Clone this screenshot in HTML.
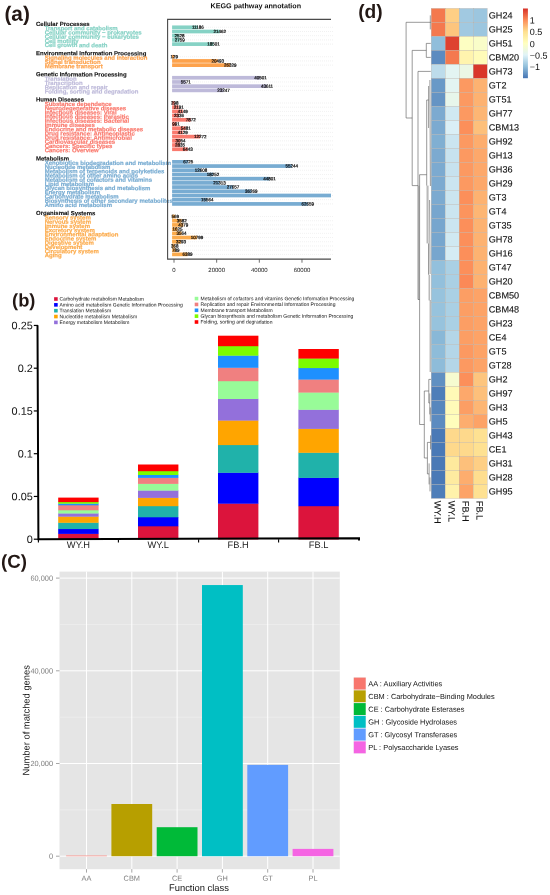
<!DOCTYPE html>
<html lang="en"><head><meta charset="utf-8"><title>Figure</title>
<style>html,body{margin:0;padding:0;background:#fff}body{width:550px;height:895px;overflow:hidden}svg{display:block}</style>
</head><body>
<svg width="550" height="895" viewBox="0 0 550 895" font-family='"Liberation Sans", Arial, Helvetica, sans-serif' text-rendering="geometricPrecision">
<rect width="550" height="895" fill="#fff"/>
<g id="panelA">
<g stroke="#dcdcdc" stroke-width="0.5" stroke-dasharray="0.8 1.2"><line x1="172.1" y1="27.30" x2="333" y2="27.30"/><line x1="172.1" y1="31.51" x2="333" y2="31.51"/><line x1="172.1" y1="35.71" x2="333" y2="35.71"/><line x1="172.1" y1="39.91" x2="333" y2="39.91"/><line x1="172.1" y1="44.12" x2="333" y2="44.12"/><line x1="172.1" y1="56.73" x2="333" y2="56.73"/><line x1="172.1" y1="60.94" x2="333" y2="60.94"/><line x1="172.1" y1="65.14" x2="333" y2="65.14"/><line x1="172.1" y1="77.76" x2="333" y2="77.76"/><line x1="172.1" y1="81.97" x2="333" y2="81.97"/><line x1="172.1" y1="86.17" x2="333" y2="86.17"/><line x1="172.1" y1="90.38" x2="333" y2="90.38"/><line x1="172.1" y1="102.99" x2="333" y2="102.99"/><line x1="172.1" y1="107.19" x2="333" y2="107.19"/><line x1="172.1" y1="111.40" x2="333" y2="111.40"/><line x1="172.1" y1="115.61" x2="333" y2="115.61"/><line x1="172.1" y1="119.81" x2="333" y2="119.81"/><line x1="172.1" y1="124.02" x2="333" y2="124.02"/><line x1="172.1" y1="128.22" x2="333" y2="128.22"/><line x1="172.1" y1="132.43" x2="333" y2="132.43"/><line x1="172.1" y1="136.63" x2="333" y2="136.63"/><line x1="172.1" y1="140.84" x2="333" y2="140.84"/><line x1="172.1" y1="145.04" x2="333" y2="145.04"/><line x1="172.1" y1="149.25" x2="333" y2="149.25"/><line x1="172.1" y1="161.86" x2="333" y2="161.86"/><line x1="172.1" y1="166.07" x2="333" y2="166.07"/><line x1="172.1" y1="170.27" x2="333" y2="170.27"/><line x1="172.1" y1="174.48" x2="333" y2="174.48"/><line x1="172.1" y1="178.68" x2="333" y2="178.68"/><line x1="172.1" y1="182.89" x2="333" y2="182.89"/><line x1="172.1" y1="187.09" x2="333" y2="187.09"/><line x1="172.1" y1="191.30" x2="333" y2="191.30"/><line x1="172.1" y1="195.50" x2="333" y2="195.50"/><line x1="172.1" y1="199.71" x2="333" y2="199.71"/><line x1="172.1" y1="203.91" x2="333" y2="203.91"/><line x1="172.1" y1="216.53" x2="333" y2="216.53"/><line x1="172.1" y1="220.73" x2="333" y2="220.73"/><line x1="172.1" y1="224.94" x2="333" y2="224.94"/><line x1="172.1" y1="229.14" x2="333" y2="229.14"/><line x1="172.1" y1="233.35" x2="333" y2="233.35"/><line x1="172.1" y1="237.55" x2="333" y2="237.55"/><line x1="172.1" y1="241.76" x2="333" y2="241.76"/><line x1="172.1" y1="245.96" x2="333" y2="245.96"/><line x1="172.1" y1="250.17" x2="333" y2="250.17"/><line x1="172.1" y1="254.37" x2="333" y2="254.37"/></g>
<rect x="172.1" y="25.45" width="25.76" height="3.7" fill="#86D2C5"/><rect x="172.1" y="29.66" width="47.68" height="3.7" fill="#86D2C5"/><rect x="172.1" y="33.86" width="7.29" height="3.7" fill="#86D2C5"/><rect x="172.1" y="38.06" width="7.78" height="3.7" fill="#86D2C5"/><rect x="172.1" y="42.27" width="41.36" height="3.7" fill="#86D2C5"/><rect x="172.1" y="54.88" width="2.18" height="3.7" fill="#FDA24C"/><rect x="172.1" y="59.09" width="45.61" height="3.7" fill="#FDA24C"/><rect x="172.1" y="63.29" width="58.06" height="3.7" fill="#FDA24C"/><rect x="172.1" y="75.91" width="88.29" height="3.7" fill="#BEBADA"/><rect x="172.1" y="80.12" width="13.78" height="3.7" fill="#BEBADA"/><rect x="172.1" y="84.32" width="94.92" height="3.7" fill="#BEBADA"/><rect x="172.1" y="88.53" width="51.49" height="3.7" fill="#BEBADA"/><rect x="172.1" y="101.14" width="2.54" height="3.7" fill="#FA7A6E"/><rect x="172.1" y="105.34" width="6.57" height="3.7" fill="#FA7A6E"/><rect x="172.1" y="109.55" width="10.75" height="3.7" fill="#FA7A6E"/><rect x="172.1" y="113.76" width="6.88" height="3.7" fill="#FA7A6E"/><rect x="172.1" y="117.96" width="18.69" height="3.7" fill="#FA7A6E"/><rect x="172.1" y="122.17" width="4.01" height="3.7" fill="#FA7A6E"/><rect x="172.1" y="126.37" width="13.59" height="3.7" fill="#FA7A6E"/><rect x="172.1" y="130.58" width="10.71" height="3.7" fill="#FA7A6E"/><rect x="172.1" y="134.78" width="28.08" height="3.7" fill="#FA7A6E"/><rect x="172.1" y="138.99" width="8.41" height="3.7" fill="#FA7A6E"/><rect x="172.1" y="143.19" width="7.95" height="3.7" fill="#FA7A6E"/><rect x="172.1" y="147.40" width="15.64" height="3.7" fill="#FA7A6E"/><rect x="172.1" y="160.01" width="16.24" height="3.7" fill="#78ACD2"/><rect x="172.1" y="164.22" width="119.74" height="3.7" fill="#78ACD2"/><rect x="172.1" y="168.42" width="28.79" height="3.7" fill="#78ACD2"/><rect x="172.1" y="172.63" width="40.83" height="3.7" fill="#78ACD2"/><rect x="172.1" y="176.83" width="97.46" height="3.7" fill="#78ACD2"/><rect x="172.1" y="181.04" width="47.36" height="3.7" fill="#78ACD2"/><rect x="172.1" y="185.24" width="60.89" height="3.7" fill="#78ACD2"/><rect x="172.1" y="189.45" width="79.26" height="3.7" fill="#78ACD2"/><rect x="172.1" y="193.65" width="158.90" height="3.7" fill="#78ACD2"/><rect x="172.1" y="197.86" width="35.10" height="3.7" fill="#78ACD2"/><rect x="172.1" y="202.06" width="135.55" height="3.7" fill="#78ACD2"/><rect x="172.1" y="214.68" width="3.11" height="3.7" fill="#FCAB4C"/><rect x="172.1" y="218.88" width="9.54" height="3.7" fill="#FCAB4C"/><rect x="172.1" y="223.09" width="11.24" height="3.7" fill="#FCAB4C"/><rect x="172.1" y="227.29" width="5.37" height="3.7" fill="#FCAB4C"/><rect x="172.1" y="231.50" width="9.50" height="3.7" fill="#FCAB4C"/><rect x="172.1" y="235.70" width="24.93" height="3.7" fill="#FCAB4C"/><rect x="172.1" y="239.91" width="8.92" height="3.7" fill="#FCAB4C"/><rect x="172.1" y="244.11" width="2.68" height="3.7" fill="#FCAB4C"/><rect x="172.1" y="248.32" width="3.58" height="3.7" fill="#FCAB4C"/><rect x="172.1" y="252.52" width="15.53" height="3.7" fill="#FCAB4C"/>
<text transform="rotate(0.03 36 25.89)" x="36" y="25.89" font-size="6" font-weight="700" fill="#111" stroke="#111" stroke-width="0.1">Cellular Processes</text><text transform="rotate(0.03 44.7 30.30)" x="44.7" y="30.30" font-size="6" font-weight="700" fill="#86D2C5" stroke="#86D2C5" stroke-width="0.18">Transport and catabolism</text><text transform="rotate(0.03 44.7 34.51)" x="44.7" y="34.51" font-size="6" font-weight="700" fill="#86D2C5" stroke="#86D2C5" stroke-width="0.18">Cellular community − prokaryotes</text><text transform="rotate(0.03 44.7 38.71)" x="44.7" y="38.71" font-size="6" font-weight="700" fill="#86D2C5" stroke="#86D2C5" stroke-width="0.18">Cellular community − eukaryotes</text><text transform="rotate(0.03 44.7 42.91)" x="44.7" y="42.91" font-size="6" font-weight="700" fill="#86D2C5" stroke="#86D2C5" stroke-width="0.18">Cell motility</text><text transform="rotate(0.03 44.7 47.12)" x="44.7" y="47.12" font-size="6" font-weight="700" fill="#86D2C5" stroke="#86D2C5" stroke-width="0.18">Cell growth and death</text><text transform="rotate(0.03 36 55.33)" x="36" y="55.33" font-size="6" font-weight="700" fill="#111" stroke="#111" stroke-width="0.1">Environmental Information Processing</text><text transform="rotate(0.03 44.7 59.73)" x="44.7" y="59.73" font-size="6" font-weight="700" fill="#FDA24C" stroke="#FDA24C" stroke-width="0.18">Signaling molecules and interaction</text><text transform="rotate(0.03 44.7 63.94)" x="44.7" y="63.94" font-size="6" font-weight="700" fill="#FDA24C" stroke="#FDA24C" stroke-width="0.18">Signal transduction</text><text transform="rotate(0.03 44.7 68.14)" x="44.7" y="68.14" font-size="6" font-weight="700" fill="#FDA24C" stroke="#FDA24C" stroke-width="0.18">Membrane transport</text><text transform="rotate(0.03 36 76.36)" x="36" y="76.36" font-size="6" font-weight="700" fill="#111" stroke="#111" stroke-width="0.1">Genetic Information Processing</text><text transform="rotate(0.03 44.7 80.76)" x="44.7" y="80.76" font-size="6" font-weight="700" fill="#BEBADA" stroke="#BEBADA" stroke-width="0.18">Translation</text><text transform="rotate(0.03 44.7 84.97)" x="44.7" y="84.97" font-size="6" font-weight="700" fill="#BEBADA" stroke="#BEBADA" stroke-width="0.18">Transcription</text><text transform="rotate(0.03 44.7 89.17)" x="44.7" y="89.17" font-size="6" font-weight="700" fill="#BEBADA" stroke="#BEBADA" stroke-width="0.18">Replication and repair</text><text transform="rotate(0.03 44.7 93.38)" x="44.7" y="93.38" font-size="6" font-weight="700" fill="#BEBADA" stroke="#BEBADA" stroke-width="0.18">Folding, sorting and degradation</text><text transform="rotate(0.03 36 101.58)" x="36" y="101.58" font-size="6" font-weight="700" fill="#111" stroke="#111" stroke-width="0.1">Human Diseases</text><text transform="rotate(0.03 44.7 105.99)" x="44.7" y="105.99" font-size="6" font-weight="700" fill="#FA7A6E" stroke="#FA7A6E" stroke-width="0.18">Substance dependence</text><text transform="rotate(0.03 44.7 110.19)" x="44.7" y="110.19" font-size="6" font-weight="700" fill="#FA7A6E" stroke="#FA7A6E" stroke-width="0.18">Neurodegenerative diseases</text><text transform="rotate(0.03 44.7 114.40)" x="44.7" y="114.40" font-size="6" font-weight="700" fill="#FA7A6E" stroke="#FA7A6E" stroke-width="0.18">Infectious diseases: Viral</text><text transform="rotate(0.03 44.7 118.61)" x="44.7" y="118.61" font-size="6" font-weight="700" fill="#FA7A6E" stroke="#FA7A6E" stroke-width="0.18">Infectious diseases: Parasitic</text><text transform="rotate(0.03 44.7 122.81)" x="44.7" y="122.81" font-size="6" font-weight="700" fill="#FA7A6E" stroke="#FA7A6E" stroke-width="0.18">Infectious diseases: Bacterial</text><text transform="rotate(0.03 44.7 127.02)" x="44.7" y="127.02" font-size="6" font-weight="700" fill="#FA7A6E" stroke="#FA7A6E" stroke-width="0.18">Immune diseases</text><text transform="rotate(0.03 44.7 131.22)" x="44.7" y="131.22" font-size="6" font-weight="700" fill="#FA7A6E" stroke="#FA7A6E" stroke-width="0.18">Endocrine and metabolic diseases</text><text transform="rotate(0.03 44.7 135.43)" x="44.7" y="135.43" font-size="6" font-weight="700" fill="#FA7A6E" stroke="#FA7A6E" stroke-width="0.18">Drug resistance: Antineoplastic</text><text transform="rotate(0.03 44.7 139.63)" x="44.7" y="139.63" font-size="6" font-weight="700" fill="#FA7A6E" stroke="#FA7A6E" stroke-width="0.18">Drug resistance: Antimicrobial</text><text transform="rotate(0.03 44.7 143.84)" x="44.7" y="143.84" font-size="6" font-weight="700" fill="#FA7A6E" stroke="#FA7A6E" stroke-width="0.18">Cardiovascular diseases</text><text transform="rotate(0.03 44.7 148.04)" x="44.7" y="148.04" font-size="6" font-weight="700" fill="#FA7A6E" stroke="#FA7A6E" stroke-width="0.18">Cancers: Specific types</text><text transform="rotate(0.03 44.7 152.25)" x="44.7" y="152.25" font-size="6" font-weight="700" fill="#FA7A6E" stroke="#FA7A6E" stroke-width="0.18">Cancers: Overview</text><text transform="rotate(0.03 36 160.46)" x="36" y="160.46" font-size="6" font-weight="700" fill="#111" stroke="#111" stroke-width="0.1">Metabolism</text><text transform="rotate(0.03 44.7 164.86)" x="44.7" y="164.86" font-size="6" font-weight="700" fill="#78ACD2" stroke="#78ACD2" stroke-width="0.18">Xenobiotics biodegradation and metabolism</text><text transform="rotate(0.03 44.7 169.07)" x="44.7" y="169.07" font-size="6" font-weight="700" fill="#78ACD2" stroke="#78ACD2" stroke-width="0.18">Nucleotide metabolism</text><text transform="rotate(0.03 44.7 173.27)" x="44.7" y="173.27" font-size="6" font-weight="700" fill="#78ACD2" stroke="#78ACD2" stroke-width="0.18">Metabolism of terpenoids and polyketides</text><text transform="rotate(0.03 44.7 177.48)" x="44.7" y="177.48" font-size="6" font-weight="700" fill="#78ACD2" stroke="#78ACD2" stroke-width="0.18">Metabolism of other amino acids</text><text transform="rotate(0.03 44.7 181.68)" x="44.7" y="181.68" font-size="6" font-weight="700" fill="#78ACD2" stroke="#78ACD2" stroke-width="0.18">Metabolism of cofactors and vitamins</text><text transform="rotate(0.03 44.7 185.89)" x="44.7" y="185.89" font-size="6" font-weight="700" fill="#78ACD2" stroke="#78ACD2" stroke-width="0.18">Lipid metabolism</text><text transform="rotate(0.03 44.7 190.09)" x="44.7" y="190.09" font-size="6" font-weight="700" fill="#78ACD2" stroke="#78ACD2" stroke-width="0.18">Glycan biosynthesis and metabolism</text><text transform="rotate(0.03 44.7 194.30)" x="44.7" y="194.30" font-size="6" font-weight="700" fill="#78ACD2" stroke="#78ACD2" stroke-width="0.18">Energy metabolism</text><text transform="rotate(0.03 44.7 198.50)" x="44.7" y="198.50" font-size="6" font-weight="700" fill="#78ACD2" stroke="#78ACD2" stroke-width="0.18">Carbohydrate metabolism</text><text transform="rotate(0.03 44.7 202.71)" x="44.7" y="202.71" font-size="6" font-weight="700" fill="#78ACD2" stroke="#78ACD2" stroke-width="0.18">Biosynthesis of other secondary metabolites</text><text transform="rotate(0.03 44.7 206.91)" x="44.7" y="206.91" font-size="6" font-weight="700" fill="#78ACD2" stroke="#78ACD2" stroke-width="0.18">Amino acid metabolism</text><text transform="rotate(0.03 36 215.12)" x="36" y="215.12" font-size="6" font-weight="700" fill="#111" stroke="#111" stroke-width="0.1">Organismal Systems</text><text transform="rotate(0.03 44.7 219.53)" x="44.7" y="219.53" font-size="6" font-weight="700" fill="#FCAB4C" stroke="#FCAB4C" stroke-width="0.18">Sensory system</text><text transform="rotate(0.03 44.7 223.73)" x="44.7" y="223.73" font-size="6" font-weight="700" fill="#FCAB4C" stroke="#FCAB4C" stroke-width="0.18">Nervous system</text><text transform="rotate(0.03 44.7 227.94)" x="44.7" y="227.94" font-size="6" font-weight="700" fill="#FCAB4C" stroke="#FCAB4C" stroke-width="0.18">Immune system</text><text transform="rotate(0.03 44.7 232.14)" x="44.7" y="232.14" font-size="6" font-weight="700" fill="#FCAB4C" stroke="#FCAB4C" stroke-width="0.18">Excretory system</text><text transform="rotate(0.03 44.7 236.35)" x="44.7" y="236.35" font-size="6" font-weight="700" fill="#FCAB4C" stroke="#FCAB4C" stroke-width="0.18">Environmental adaptation</text><text transform="rotate(0.03 44.7 240.55)" x="44.7" y="240.55" font-size="6" font-weight="700" fill="#FCAB4C" stroke="#FCAB4C" stroke-width="0.18">Endocrine system</text><text transform="rotate(0.03 44.7 244.76)" x="44.7" y="244.76" font-size="6" font-weight="700" fill="#FCAB4C" stroke="#FCAB4C" stroke-width="0.18">Digestive system</text><text transform="rotate(0.03 44.7 248.96)" x="44.7" y="248.96" font-size="6" font-weight="700" fill="#FCAB4C" stroke="#FCAB4C" stroke-width="0.18">Development</text><text transform="rotate(0.03 44.7 253.17)" x="44.7" y="253.17" font-size="6" font-weight="700" fill="#FCAB4C" stroke="#FCAB4C" stroke-width="0.18">Circulatory system</text><text transform="rotate(0.03 44.7 257.37)" x="44.7" y="257.37" font-size="6" font-weight="700" fill="#FCAB4C" stroke="#FCAB4C" stroke-width="0.18">Aging</text>
<g font-size="4.5" fill="#111" stroke="#111" stroke-width="0.22"><text transform="rotate(0.03 197.86 28.80)" x="197.86" y="28.80" text-anchor="middle">11186</text><text transform="rotate(0.03 219.78 33.01)" x="219.78" y="33.01" text-anchor="middle">21462</text><text transform="rotate(0.03 179.39 37.21)" x="179.39" y="37.21" text-anchor="middle">2528</text><text transform="rotate(0.03 179.88 41.41)" x="179.88" y="41.41" text-anchor="middle">2759</text><text transform="rotate(0.03 213.46 45.62)" x="213.46" y="45.62" text-anchor="middle">18501</text><text transform="rotate(0.03 174.28 58.23)" x="174.28" y="58.23" text-anchor="middle">129</text><text transform="rotate(0.03 217.71 62.44)" x="217.71" y="62.44" text-anchor="middle">20493</text><text transform="rotate(0.03 230.16 66.64)" x="230.16" y="66.64" text-anchor="middle">26329</text><text transform="rotate(0.03 260.39 79.26)" x="260.39" y="79.26" text-anchor="middle">40501</text><text transform="rotate(0.03 185.88 83.47)" x="185.88" y="83.47" text-anchor="middle">5571</text><text transform="rotate(0.03 267.02 87.67)" x="267.02" y="87.67" text-anchor="middle">43611</text><text transform="rotate(0.03 223.59 91.88)" x="223.59" y="91.88" text-anchor="middle">23247</text><text transform="rotate(0.03 174.64 104.49)" x="174.64" y="104.49" text-anchor="middle">298</text><text transform="rotate(0.03 178.67 108.69)" x="178.67" y="108.69" text-anchor="middle">2191</text><text transform="rotate(0.03 182.85 112.90)" x="182.85" y="112.90" text-anchor="middle">4149</text><text transform="rotate(0.03 178.98 117.11)" x="178.98" y="117.11" text-anchor="middle">2336</text><text transform="rotate(0.03 190.79 121.31)" x="190.79" y="121.31" text-anchor="middle">7872</text><text transform="rotate(0.03 176.11 125.52)" x="176.11" y="125.52" text-anchor="middle">991</text><text transform="rotate(0.03 185.69 129.72)" x="185.69" y="129.72" text-anchor="middle">5481</text><text transform="rotate(0.03 182.81 133.93)" x="182.81" y="133.93" text-anchor="middle">4129</text><text transform="rotate(0.03 200.18 138.13)" x="200.18" y="138.13" text-anchor="middle">12272</text><text transform="rotate(0.03 180.51 142.34)" x="180.51" y="142.34" text-anchor="middle">3054</text><text transform="rotate(0.03 180.05 146.54)" x="180.05" y="146.54" text-anchor="middle">2835</text><text transform="rotate(0.03 187.74 150.75)" x="187.74" y="150.75" text-anchor="middle">6443</text><text transform="rotate(0.03 188.34 163.36)" x="188.34" y="163.36" text-anchor="middle">6725</text><text transform="rotate(0.03 291.84 167.57)" x="291.84" y="167.57" text-anchor="middle">55244</text><text transform="rotate(0.03 200.89 171.77)" x="200.89" y="171.77" text-anchor="middle">12608</text><text transform="rotate(0.03 212.93 175.98)" x="212.93" y="175.98" text-anchor="middle">18252</text><text transform="rotate(0.03 269.56 180.18)" x="269.56" y="180.18" text-anchor="middle">44801</text><text transform="rotate(0.03 219.46 184.39)" x="219.46" y="184.39" text-anchor="middle">21313</text><text transform="rotate(0.03 232.99 188.59)" x="232.99" y="188.59" text-anchor="middle">27657</text><text transform="rotate(0.03 251.36 192.80)" x="251.36" y="192.80" text-anchor="middle">36269</text><text transform="rotate(0.03 207.20 201.21)" x="207.20" y="201.21" text-anchor="middle">15564</text><text transform="rotate(0.03 307.65 205.41)" x="307.65" y="205.41" text-anchor="middle">62659</text><text transform="rotate(0.03 175.21 218.03)" x="175.21" y="218.03" text-anchor="middle">569</text><text transform="rotate(0.03 181.64 222.23)" x="181.64" y="222.23" text-anchor="middle">3582</text><text transform="rotate(0.03 183.34 226.44)" x="183.34" y="226.44" text-anchor="middle">4379</text><text transform="rotate(0.03 177.47 230.64)" x="177.47" y="230.64" text-anchor="middle">1625</text><text transform="rotate(0.03 181.60 234.85)" x="181.60" y="234.85" text-anchor="middle">3564</text><text transform="rotate(0.03 197.03 239.05)" x="197.03" y="239.05" text-anchor="middle">10799</text><text transform="rotate(0.03 181.02 243.26)" x="181.02" y="243.26" text-anchor="middle">3293</text><text transform="rotate(0.03 174.78 247.46)" x="174.78" y="247.46" text-anchor="middle">368</text><text transform="rotate(0.03 175.68 251.67)" x="175.68" y="251.67" text-anchor="middle">789</text><text transform="rotate(0.03 187.63 255.87)" x="187.63" y="255.87" text-anchor="middle">6389</text></g>
<path d="M331.0 19.4H167.6V259.1H331.0" fill="none" stroke="#4a4a4a" stroke-width="1.1"/>
<line x1="174.00" y1="259.1" x2="174.00" y2="262.7" stroke="#4a4a4a" stroke-width="0.8"/>
<text transform="rotate(0.03 174.00 272.1)" x="174.00" y="272.1" font-size="6" text-anchor="middle" fill="#222">0</text>
<line x1="216.66" y1="259.1" x2="216.66" y2="262.7" stroke="#4a4a4a" stroke-width="0.8"/>
<text transform="rotate(0.03 216.66 272.1)" x="216.66" y="272.1" font-size="6" text-anchor="middle" fill="#222">20000</text>
<line x1="259.32" y1="259.1" x2="259.32" y2="262.7" stroke="#4a4a4a" stroke-width="0.8"/>
<text transform="rotate(0.03 259.32 272.1)" x="259.32" y="272.1" font-size="6" text-anchor="middle" fill="#222">40000</text>
<line x1="301.98" y1="259.1" x2="301.98" y2="262.7" stroke="#4a4a4a" stroke-width="0.8"/>
<text transform="rotate(0.03 301.98 272.1)" x="301.98" y="272.1" font-size="6" text-anchor="middle" fill="#222">60000</text>
<text transform="rotate(0.03 255.8 8.2)" x="255.8" y="8.2" font-size="7.2" font-weight="700" text-anchor="middle" fill="#111">KEGG pathway annotation</text>
</g>
<text transform="rotate(0.03 4.4 20.7)" x="4.4" y="20.7" font-size="20.8" font-weight="700" fill="#231815">(a)</text>
<g id="panelB">
<rect x="58.2" y="533.60" width="40.4" height="5.90" fill="#DC143C"/>
<rect x="58.2" y="528.80" width="40.4" height="5.10" fill="#0000FF"/>
<rect x="58.2" y="522.50" width="40.4" height="6.60" fill="#20B2AA"/>
<rect x="58.2" y="516.40" width="40.4" height="6.40" fill="#FFA500"/>
<rect x="58.2" y="513.20" width="40.4" height="3.50" fill="#9370DB"/>
<rect x="58.2" y="510.00" width="40.4" height="3.50" fill="#98FB98"/>
<rect x="58.2" y="505.00" width="40.4" height="5.30" fill="#F08080"/>
<rect x="58.2" y="503.40" width="40.4" height="1.90" fill="#1E90FF"/>
<rect x="58.2" y="501.80" width="40.4" height="1.90" fill="#7CFC00"/>
<rect x="58.2" y="497.60" width="40.4" height="4.50" fill="#FF0000"/>
<text transform="rotate(0.03 78.4 548.1)" x="78.4" y="548.1" font-size="9.3" text-anchor="middle" fill="#222">WY.H</text>
<rect x="138.0" y="526.00" width="40.4" height="13.50" fill="#DC143C"/>
<rect x="138.0" y="517.00" width="40.4" height="9.30" fill="#0000FF"/>
<rect x="138.0" y="505.90" width="40.4" height="11.40" fill="#20B2AA"/>
<rect x="138.0" y="497.60" width="40.4" height="8.60" fill="#FFA500"/>
<rect x="138.0" y="490.30" width="40.4" height="7.60" fill="#9370DB"/>
<rect x="138.0" y="483.60" width="40.4" height="7.00" fill="#98FB98"/>
<rect x="138.0" y="477.60" width="40.4" height="6.30" fill="#F08080"/>
<rect x="138.0" y="474.70" width="40.4" height="3.20" fill="#1E90FF"/>
<rect x="138.0" y="470.90" width="40.4" height="4.10" fill="#7CFC00"/>
<rect x="138.0" y="464.50" width="40.4" height="6.70" fill="#FF0000"/>
<text transform="rotate(0.03 158.2 548.1)" x="158.2" y="548.1" font-size="9.3" text-anchor="middle" fill="#222">WY.L</text>
<rect x="218.0" y="503.40" width="40.4" height="36.10" fill="#DC143C"/>
<rect x="218.0" y="472.50" width="40.4" height="31.20" fill="#0000FF"/>
<rect x="218.0" y="444.80" width="40.4" height="28.00" fill="#20B2AA"/>
<rect x="218.0" y="420.30" width="40.4" height="24.80" fill="#FFA500"/>
<rect x="218.0" y="398.70" width="40.4" height="21.90" fill="#9370DB"/>
<rect x="218.0" y="380.90" width="40.4" height="18.10" fill="#98FB98"/>
<rect x="218.0" y="367.50" width="40.4" height="13.70" fill="#F08080"/>
<rect x="218.0" y="355.40" width="40.4" height="12.40" fill="#1E90FF"/>
<rect x="218.0" y="345.90" width="40.4" height="9.80" fill="#7CFC00"/>
<rect x="218.0" y="335.70" width="40.4" height="10.50" fill="#FF0000"/>
<text transform="rotate(0.03 238.2 548.1)" x="238.2" y="548.1" font-size="9.3" text-anchor="middle" fill="#222">FB.H</text>
<rect x="298.4" y="505.90" width="40.4" height="33.60" fill="#DC143C"/>
<rect x="298.4" y="477.60" width="40.4" height="28.60" fill="#0000FF"/>
<rect x="298.4" y="452.50" width="40.4" height="25.40" fill="#20B2AA"/>
<rect x="298.4" y="428.60" width="40.4" height="24.20" fill="#FFA500"/>
<rect x="298.4" y="409.50" width="40.4" height="19.40" fill="#9370DB"/>
<rect x="298.4" y="392.30" width="40.4" height="17.50" fill="#98FB98"/>
<rect x="298.4" y="379.30" width="40.4" height="13.30" fill="#F08080"/>
<rect x="298.4" y="367.80" width="40.4" height="11.80" fill="#1E90FF"/>
<rect x="298.4" y="358.30" width="40.4" height="9.80" fill="#7CFC00"/>
<rect x="298.4" y="349.00" width="40.4" height="9.60" fill="#FF0000"/>
<text transform="rotate(0.03 318.6 548.1)" x="318.6" y="548.1" font-size="9.3" text-anchor="middle" fill="#222">FB.L</text>
<path d="M37.5 325.3L38.4 539.2L359.0 538.2V540.4" fill="none" stroke="#000" stroke-width="2.0" stroke-linejoin="miter"/>
<line x1="33.8" y1="539.20" x2="38" y2="539.20" stroke="#000" stroke-width="1.2"/>
<text transform="rotate(0.03 32.8 543.10)" x="32.8" y="543.10" font-size="10.9" text-anchor="end" fill="#111">0</text>
<line x1="33.8" y1="496.45" x2="38" y2="496.45" stroke="#000" stroke-width="1.2"/>
<text transform="rotate(0.03 32.8 500.35)" x="32.8" y="500.35" font-size="10.9" text-anchor="end" fill="#111">0.05</text>
<line x1="33.8" y1="453.70" x2="38" y2="453.70" stroke="#000" stroke-width="1.2"/>
<text transform="rotate(0.03 32.8 457.60)" x="32.8" y="457.60" font-size="10.9" text-anchor="end" fill="#111">0.1</text>
<line x1="33.8" y1="410.95" x2="38" y2="410.95" stroke="#000" stroke-width="1.2"/>
<text transform="rotate(0.03 32.8 414.85)" x="32.8" y="414.85" font-size="10.9" text-anchor="end" fill="#111">0.15</text>
<line x1="33.8" y1="368.20" x2="38" y2="368.20" stroke="#000" stroke-width="1.2"/>
<text transform="rotate(0.03 32.8 372.10)" x="32.8" y="372.10" font-size="10.9" text-anchor="end" fill="#111">0.2</text>
<line x1="33.8" y1="325.45" x2="38" y2="325.45" stroke="#000" stroke-width="1.2"/>
<text transform="rotate(0.03 32.8 329.35)" x="32.8" y="329.35" font-size="10.9" text-anchor="end" fill="#111">0.25</text>
<line x1="38.4" y1="539.2" x2="38.4" y2="542.4000000000001" stroke="#000" stroke-width="1.1"/>
<line x1="118.4" y1="539.2" x2="118.4" y2="542.4000000000001" stroke="#000" stroke-width="1.1"/>
<line x1="198.6" y1="539.2" x2="198.6" y2="542.4000000000001" stroke="#000" stroke-width="1.1"/>
<line x1="278.6" y1="539.2" x2="278.6" y2="542.4000000000001" stroke="#000" stroke-width="1.1"/>
<rect x="54.1" y="297.20" width="3.6" height="3.6" fill="#DC143C"/>
<text transform="rotate(0.03 59.5 300.60)" x="59.5" y="300.60" font-size="5.02" fill="#111">Carbohydrate metabolism Metabolism</text>
<rect x="54.1" y="303.05" width="3.6" height="3.6" fill="#0000FF"/>
<text transform="rotate(0.03 59.5 306.45)" x="59.5" y="306.45" font-size="5.02" fill="#111">Amino acid metabolism Genetic Information Processing</text>
<rect x="54.1" y="308.90" width="3.6" height="3.6" fill="#20B2AA"/>
<text transform="rotate(0.03 59.5 312.30)" x="59.5" y="312.30" font-size="5.02" fill="#111">Translation Metabolism</text>
<rect x="54.1" y="314.75" width="3.6" height="3.6" fill="#FFA500"/>
<text transform="rotate(0.03 59.5 318.15)" x="59.5" y="318.15" font-size="5.02" fill="#111">Nucleotide metabolism Metabolism</text>
<rect x="54.1" y="320.60" width="3.6" height="3.6" fill="#9370DB"/>
<text transform="rotate(0.03 59.5 324.00)" x="59.5" y="324.00" font-size="5.02" fill="#111">Energy metabolism Metabolism</text>
<rect x="194.7" y="296.80" width="3.6" height="3.6" fill="#98FB98"/>
<text transform="rotate(0.03 200.5 300.20)" x="200.5" y="300.20" font-size="5.02" fill="#111">Metabolism of cofactors and vitamins Genetic Information Processing</text>
<rect x="194.7" y="302.65" width="3.6" height="3.6" fill="#F08080"/>
<text transform="rotate(0.03 200.5 306.05)" x="200.5" y="306.05" font-size="5.02" fill="#111">Replication and repair Environmental Information Processing</text>
<rect x="194.7" y="308.50" width="3.6" height="3.6" fill="#1E90FF"/>
<text transform="rotate(0.03 200.5 311.90)" x="200.5" y="311.90" font-size="5.02" fill="#111">Membrane transport Metabolism</text>
<rect x="194.7" y="314.35" width="3.6" height="3.6" fill="#7CFC00"/>
<text transform="rotate(0.03 200.5 317.75)" x="200.5" y="317.75" font-size="5.02" fill="#111">Glycan biosynthesis and metabolism Genetic Information Processing</text>
<rect x="194.7" y="320.20" width="3.6" height="3.6" fill="#FF0000"/>
<text transform="rotate(0.03 200.5 323.60)" x="200.5" y="323.60" font-size="5.02" fill="#111">Folding, sorting and degradation</text>
</g>
<text transform="rotate(0.03 12.1 306.6)" x="12.1" y="306.6" font-size="18.3" font-weight="700" fill="#231815">(b)</text>
<g id="panelC">
<rect x="59.5" y="571.6" width="280.3" height="297.6" fill="#E5E5E5"/>
<line x1="59.5" y1="809.85" x2="339.8" y2="809.85" stroke="#F2F2F2" stroke-width="0.6"/>
<line x1="59.5" y1="717.15" x2="339.8" y2="717.15" stroke="#F2F2F2" stroke-width="0.6"/>
<line x1="59.5" y1="624.45" x2="339.8" y2="624.45" stroke="#F2F2F2" stroke-width="0.6"/>
<line x1="59.5" y1="856.20" x2="339.8" y2="856.20" stroke="#fff" stroke-width="1"/>
<line x1="56" y1="856.20" x2="59.5" y2="856.20" stroke="#7f7f7f" stroke-width="0.7"/>
<text transform="rotate(0.03 53 858.80)" x="53" y="858.80" font-size="7.4" text-anchor="end" fill="#7f7f7f">0</text>
<line x1="59.5" y1="763.50" x2="339.8" y2="763.50" stroke="#fff" stroke-width="1"/>
<line x1="56" y1="763.50" x2="59.5" y2="763.50" stroke="#7f7f7f" stroke-width="0.7"/>
<text transform="rotate(0.03 53 766.10)" x="53" y="766.10" font-size="7.4" text-anchor="end" fill="#7f7f7f">20,000</text>
<line x1="59.5" y1="670.80" x2="339.8" y2="670.80" stroke="#fff" stroke-width="1"/>
<line x1="56" y1="670.80" x2="59.5" y2="670.80" stroke="#7f7f7f" stroke-width="0.7"/>
<text transform="rotate(0.03 53 673.40)" x="53" y="673.40" font-size="7.4" text-anchor="end" fill="#7f7f7f">40,000</text>
<line x1="59.5" y1="578.10" x2="339.8" y2="578.10" stroke="#fff" stroke-width="1"/>
<line x1="56" y1="578.10" x2="59.5" y2="578.10" stroke="#7f7f7f" stroke-width="0.7"/>
<text transform="rotate(0.03 53 580.70)" x="53" y="580.70" font-size="7.4" text-anchor="end" fill="#7f7f7f">60,000</text>
<line x1="86.50" y1="571.6" x2="86.50" y2="869.2" stroke="#fff" stroke-width="1"/>
<line x1="86.50" y1="869.2" x2="86.50" y2="872.6" stroke="#7f7f7f" stroke-width="0.7"/>
<text transform="rotate(0.03 86.50 880.7)" x="86.50" y="880.7" font-size="7.4" text-anchor="middle" fill="#7f7f7f">AA</text>
<line x1="131.80" y1="571.6" x2="131.80" y2="869.2" stroke="#fff" stroke-width="1"/>
<line x1="131.80" y1="869.2" x2="131.80" y2="872.6" stroke="#7f7f7f" stroke-width="0.7"/>
<text transform="rotate(0.03 131.80 880.7)" x="131.80" y="880.7" font-size="7.4" text-anchor="middle" fill="#7f7f7f">CBM</text>
<line x1="177.10" y1="571.6" x2="177.10" y2="869.2" stroke="#fff" stroke-width="1"/>
<line x1="177.10" y1="869.2" x2="177.10" y2="872.6" stroke="#7f7f7f" stroke-width="0.7"/>
<text transform="rotate(0.03 177.10 880.7)" x="177.10" y="880.7" font-size="7.4" text-anchor="middle" fill="#7f7f7f">CE</text>
<line x1="222.40" y1="571.6" x2="222.40" y2="869.2" stroke="#fff" stroke-width="1"/>
<line x1="222.40" y1="869.2" x2="222.40" y2="872.6" stroke="#7f7f7f" stroke-width="0.7"/>
<text transform="rotate(0.03 222.40 880.7)" x="222.40" y="880.7" font-size="7.4" text-anchor="middle" fill="#7f7f7f">GH</text>
<line x1="267.70" y1="571.6" x2="267.70" y2="869.2" stroke="#fff" stroke-width="1"/>
<line x1="267.70" y1="869.2" x2="267.70" y2="872.6" stroke="#7f7f7f" stroke-width="0.7"/>
<text transform="rotate(0.03 267.70 880.7)" x="267.70" y="880.7" font-size="7.4" text-anchor="middle" fill="#7f7f7f">GT</text>
<line x1="313.00" y1="571.6" x2="313.00" y2="869.2" stroke="#fff" stroke-width="1"/>
<line x1="313.00" y1="869.2" x2="313.00" y2="872.6" stroke="#7f7f7f" stroke-width="0.7"/>
<text transform="rotate(0.03 313.00 880.7)" x="313.00" y="880.7" font-size="7.4" text-anchor="middle" fill="#7f7f7f">PL</text>
<rect x="66.10" y="855.60" width="40.8" height="0.60" fill="#F8766D"/>
<rect x="111.40" y="804.00" width="40.8" height="52.20" fill="#B79F00"/>
<rect x="156.70" y="827.20" width="40.8" height="29.00" fill="#00BA38"/>
<rect x="202.00" y="585.05" width="40.8" height="271.15" fill="#00BFC4"/>
<rect x="247.30" y="764.89" width="40.8" height="91.31" fill="#619CFF"/>
<rect x="292.60" y="848.90" width="40.8" height="7.30" fill="#F564E3"/>
<text transform="rotate(0.03 199 890.9)" x="199" y="890.9" font-size="9.4" text-anchor="middle" fill="#111">Function class</text>
<text transform="translate(29.4 720.3) rotate(-89.97)" font-size="9.4" text-anchor="middle" fill="#111">Number of matched genes</text>
<rect x="353.4" y="677.20" width="12.7" height="12.73" fill="#F2F2F2"/>
<rect x="353.8" y="677.60" width="11.9" height="11.95" fill="#F8766D"/>
<text transform="rotate(0.03 368.3 686.30)" x="368.3" y="686.30" font-size="7.4" fill="#111">AA : Auxiliary Activities</text>
<rect x="353.4" y="689.95" width="12.7" height="12.73" fill="#F2F2F2"/>
<rect x="353.8" y="690.35" width="11.9" height="11.95" fill="#B79F00"/>
<text transform="rotate(0.03 368.3 699.05)" x="368.3" y="699.05" font-size="7.4" fill="#111">CBM : Carbohydrate−Binding Modules</text>
<rect x="353.4" y="702.70" width="12.7" height="12.73" fill="#F2F2F2"/>
<rect x="353.8" y="703.10" width="11.9" height="11.95" fill="#00BA38"/>
<text transform="rotate(0.03 368.3 711.80)" x="368.3" y="711.80" font-size="7.4" fill="#111">CE : Carbohydrate Esterases</text>
<rect x="353.4" y="715.45" width="12.7" height="12.73" fill="#F2F2F2"/>
<rect x="353.8" y="715.85" width="11.9" height="11.95" fill="#00BFC4"/>
<text transform="rotate(0.03 368.3 724.55)" x="368.3" y="724.55" font-size="7.4" fill="#111">GH : Glycoside Hydrolases</text>
<rect x="353.4" y="728.20" width="12.7" height="12.73" fill="#F2F2F2"/>
<rect x="353.8" y="728.60" width="11.9" height="11.95" fill="#619CFF"/>
<text transform="rotate(0.03 368.3 737.30)" x="368.3" y="737.30" font-size="7.4" fill="#111">GT : Glycosyl Transferases</text>
<rect x="353.4" y="740.95" width="12.7" height="12.73" fill="#F2F2F2"/>
<rect x="353.8" y="741.35" width="11.9" height="11.95" fill="#F564E3"/>
<text transform="rotate(0.03 368.3 750.05)" x="368.3" y="750.05" font-size="7.4" fill="#111">PL : Polysaccharide Lyases</text>
</g>
<text transform="rotate(0.03 1.0 567.7)" x="1.0" y="567.7" font-size="18.7" font-weight="700" fill="#231815">(C)</text>
<g id="panelD">
<g stroke="#B3AAA2" stroke-width="0.32"><rect x="431.2" y="8.4" width="14.0" height="14.0" fill="#F4794E"/><rect x="445.2" y="8.4" width="14.0" height="14.0" fill="#FECF85"/><rect x="459.2" y="8.4" width="14.0" height="14.0" fill="#A1C9E1"/><rect x="473.2" y="8.4" width="14.0" height="14.0" fill="#9CC6DF"/><rect x="431.2" y="22.4" width="14.0" height="14.0" fill="#F4794E"/><rect x="445.2" y="22.4" width="14.0" height="14.0" fill="#FDC57E"/><rect x="459.2" y="22.4" width="14.0" height="14.0" fill="#A1C9E1"/><rect x="473.2" y="22.4" width="14.0" height="14.0" fill="#9CC6DF"/><rect x="431.2" y="36.4" width="14.0" height="14.0" fill="#90BEDB"/><rect x="445.2" y="36.4" width="14.0" height="14.0" fill="#DE4130"/><rect x="459.2" y="36.4" width="14.0" height="14.0" fill="#FDFEC2"/><rect x="473.2" y="36.4" width="14.0" height="14.0" fill="#F9FDC9"/><rect x="431.2" y="50.4" width="14.0" height="14.0" fill="#5C8BC0"/><rect x="445.2" y="50.4" width="14.0" height="14.0" fill="#F4794E"/><rect x="459.2" y="50.4" width="14.0" height="14.0" fill="#FFF4AE"/><rect x="473.2" y="50.4" width="14.0" height="14.0" fill="#FFFBB9"/><rect x="431.2" y="64.4" width="14.0" height="14.0" fill="#BDDCEB"/><rect x="445.2" y="64.4" width="14.0" height="14.0" fill="#E3F4F2"/><rect x="459.2" y="64.4" width="14.0" height="14.0" fill="#EBF7E5"/><rect x="473.2" y="64.4" width="14.0" height="14.0" fill="#D9362A"/><rect x="431.2" y="78.4" width="14.0" height="14.0" fill="#6999C7"/><rect x="445.2" y="78.4" width="14.0" height="14.0" fill="#E3F4F2"/><rect x="459.2" y="78.4" width="14.0" height="14.0" fill="#FC9961"/><rect x="473.2" y="78.4" width="14.0" height="14.0" fill="#FDB271"/><rect x="431.2" y="92.4" width="14.0" height="14.0" fill="#6594C4"/><rect x="445.2" y="92.4" width="14.0" height="14.0" fill="#E7F6EB"/><rect x="459.2" y="92.4" width="14.0" height="14.0" fill="#FC9961"/><rect x="473.2" y="92.4" width="14.0" height="14.0" fill="#FDB271"/><rect x="431.2" y="106.4" width="14.0" height="14.0" fill="#7CAAD0"/><rect x="445.2" y="106.4" width="14.0" height="14.0" fill="#D0E9F2"/><rect x="459.2" y="106.4" width="14.0" height="14.0" fill="#FC9961"/><rect x="473.2" y="106.4" width="14.0" height="14.0" fill="#FDB674"/><rect x="431.2" y="120.4" width="14.0" height="14.0" fill="#7CAAD0"/><rect x="445.2" y="120.4" width="14.0" height="14.0" fill="#DAEFF6"/><rect x="459.2" y="120.4" width="14.0" height="14.0" fill="#FC8F5A"/><rect x="473.2" y="120.4" width="14.0" height="14.0" fill="#FDC07B"/><rect x="431.2" y="134.4" width="14.0" height="14.0" fill="#80AFD2"/><rect x="445.2" y="134.4" width="14.0" height="14.0" fill="#CBE5F0"/><rect x="459.2" y="134.4" width="14.0" height="14.0" fill="#FC9961"/><rect x="473.2" y="134.4" width="14.0" height="14.0" fill="#FDAD6E"/><rect x="431.2" y="148.4" width="14.0" height="14.0" fill="#7CAAD0"/><rect x="445.2" y="148.4" width="14.0" height="14.0" fill="#C7E2EF"/><rect x="459.2" y="148.4" width="14.0" height="14.0" fill="#FC9961"/><rect x="473.2" y="148.4" width="14.0" height="14.0" fill="#FDA86B"/><rect x="431.2" y="162.4" width="14.0" height="14.0" fill="#7CAAD0"/><rect x="445.2" y="162.4" width="14.0" height="14.0" fill="#C7E2EF"/><rect x="459.2" y="162.4" width="14.0" height="14.0" fill="#FC9961"/><rect x="473.2" y="162.4" width="14.0" height="14.0" fill="#FDA86B"/><rect x="431.2" y="176.4" width="14.0" height="14.0" fill="#7CAAD0"/><rect x="445.2" y="176.4" width="14.0" height="14.0" fill="#CBE5F0"/><rect x="459.2" y="176.4" width="14.0" height="14.0" fill="#FC9961"/><rect x="473.2" y="176.4" width="14.0" height="14.0" fill="#FDA86B"/><rect x="431.2" y="190.4" width="14.0" height="14.0" fill="#7CAAD0"/><rect x="445.2" y="190.4" width="14.0" height="14.0" fill="#CBE5F0"/><rect x="459.2" y="190.4" width="14.0" height="14.0" fill="#FC8F5A"/><rect x="473.2" y="190.4" width="14.0" height="14.0" fill="#FDB271"/><rect x="431.2" y="204.4" width="14.0" height="14.0" fill="#77A6CE"/><rect x="445.2" y="204.4" width="14.0" height="14.0" fill="#CBE5F0"/><rect x="459.2" y="204.4" width="14.0" height="14.0" fill="#FC945D"/><rect x="473.2" y="204.4" width="14.0" height="14.0" fill="#FDB674"/><rect x="431.2" y="218.4" width="14.0" height="14.0" fill="#77A6CE"/><rect x="445.2" y="218.4" width="14.0" height="14.0" fill="#CBE5F0"/><rect x="459.2" y="218.4" width="14.0" height="14.0" fill="#FC8F5A"/><rect x="473.2" y="218.4" width="14.0" height="14.0" fill="#FDB271"/><rect x="431.2" y="232.4" width="14.0" height="14.0" fill="#77A6CE"/><rect x="445.2" y="232.4" width="14.0" height="14.0" fill="#D0E9F2"/><rect x="459.2" y="232.4" width="14.0" height="14.0" fill="#FC8F5A"/><rect x="473.2" y="232.4" width="14.0" height="14.0" fill="#FDB271"/><rect x="431.2" y="246.4" width="14.0" height="14.0" fill="#77A6CE"/><rect x="445.2" y="246.4" width="14.0" height="14.0" fill="#D5ECF4"/><rect x="459.2" y="246.4" width="14.0" height="14.0" fill="#FC8F5A"/><rect x="473.2" y="246.4" width="14.0" height="14.0" fill="#FDB271"/><rect x="431.2" y="260.4" width="14.0" height="14.0" fill="#93C0DC"/><rect x="445.2" y="260.4" width="14.0" height="14.0" fill="#AAD0E4"/><rect x="459.2" y="260.4" width="14.0" height="14.0" fill="#FC8F5A"/><rect x="473.2" y="260.4" width="14.0" height="14.0" fill="#FDB271"/><rect x="431.2" y="274.4" width="14.0" height="14.0" fill="#93C0DC"/><rect x="445.2" y="274.4" width="14.0" height="14.0" fill="#AAD0E4"/><rect x="459.2" y="274.4" width="14.0" height="14.0" fill="#FB8957"/><rect x="473.2" y="274.4" width="14.0" height="14.0" fill="#FDB271"/><rect x="431.2" y="288.4" width="14.0" height="14.0" fill="#97C3DD"/><rect x="445.2" y="288.4" width="14.0" height="14.0" fill="#AAD0E4"/><rect x="459.2" y="288.4" width="14.0" height="14.0" fill="#FC9E64"/><rect x="473.2" y="288.4" width="14.0" height="14.0" fill="#FDA367"/><rect x="431.2" y="302.4" width="14.0" height="14.0" fill="#97C3DD"/><rect x="445.2" y="302.4" width="14.0" height="14.0" fill="#AAD0E4"/><rect x="459.2" y="302.4" width="14.0" height="14.0" fill="#FC9E64"/><rect x="473.2" y="302.4" width="14.0" height="14.0" fill="#FDA367"/><rect x="431.2" y="316.4" width="14.0" height="14.0" fill="#97C3DD"/><rect x="445.2" y="316.4" width="14.0" height="14.0" fill="#AAD0E4"/><rect x="459.2" y="316.4" width="14.0" height="14.0" fill="#FC9E64"/><rect x="473.2" y="316.4" width="14.0" height="14.0" fill="#FDA367"/><rect x="431.2" y="330.4" width="14.0" height="14.0" fill="#89B8D7"/><rect x="445.2" y="330.4" width="14.0" height="14.0" fill="#B4D6E8"/><rect x="459.2" y="330.4" width="14.0" height="14.0" fill="#FC9E64"/><rect x="473.2" y="330.4" width="14.0" height="14.0" fill="#FDA367"/><rect x="431.2" y="344.4" width="14.0" height="14.0" fill="#8EBCD9"/><rect x="445.2" y="344.4" width="14.0" height="14.0" fill="#B4D6E8"/><rect x="459.2" y="344.4" width="14.0" height="14.0" fill="#FC9961"/><rect x="473.2" y="344.4" width="14.0" height="14.0" fill="#FDA367"/><rect x="431.2" y="358.4" width="14.0" height="14.0" fill="#8EBCD9"/><rect x="445.2" y="358.4" width="14.0" height="14.0" fill="#B4D6E8"/><rect x="459.2" y="358.4" width="14.0" height="14.0" fill="#FC9961"/><rect x="473.2" y="358.4" width="14.0" height="14.0" fill="#FDA367"/><rect x="431.2" y="372.4" width="14.0" height="14.0" fill="#6090C2"/><rect x="445.2" y="372.4" width="14.0" height="14.0" fill="#F6FBD0"/><rect x="459.2" y="372.4" width="14.0" height="14.0" fill="#FC8F5A"/><rect x="473.2" y="372.4" width="14.0" height="14.0" fill="#FDC57E"/><rect x="431.2" y="386.4" width="14.0" height="14.0" fill="#4E7EB9"/><rect x="445.2" y="386.4" width="14.0" height="14.0" fill="#FFF9B7"/><rect x="459.2" y="386.4" width="14.0" height="14.0" fill="#FDA86B"/><rect x="473.2" y="386.4" width="14.0" height="14.0" fill="#FDC07B"/><rect x="431.2" y="400.4" width="14.0" height="14.0" fill="#5787BD"/><rect x="445.2" y="400.4" width="14.0" height="14.0" fill="#FFFBB9"/><rect x="459.2" y="400.4" width="14.0" height="14.0" fill="#FC9E64"/><rect x="473.2" y="400.4" width="14.0" height="14.0" fill="#FDB674"/><rect x="431.2" y="414.4" width="14.0" height="14.0" fill="#5C8BC0"/><rect x="445.2" y="414.4" width="14.0" height="14.0" fill="#FFFDBC"/><rect x="459.2" y="414.4" width="14.0" height="14.0" fill="#FDAD6E"/><rect x="473.2" y="414.4" width="14.0" height="14.0" fill="#FDA367"/><rect x="431.2" y="428.4" width="14.0" height="14.0" fill="#4A79B6"/><rect x="445.2" y="428.4" width="14.0" height="14.0" fill="#FED98C"/><rect x="459.2" y="428.4" width="14.0" height="14.0" fill="#FED98C"/><rect x="473.2" y="428.4" width="14.0" height="14.0" fill="#FEE192"/><rect x="431.2" y="442.4" width="14.0" height="14.0" fill="#4A79B6"/><rect x="445.2" y="442.4" width="14.0" height="14.0" fill="#FED98C"/><rect x="459.2" y="442.4" width="14.0" height="14.0" fill="#FED98C"/><rect x="473.2" y="442.4" width="14.0" height="14.0" fill="#FEE192"/><rect x="431.2" y="456.4" width="14.0" height="14.0" fill="#4A79B6"/><rect x="445.2" y="456.4" width="14.0" height="14.0" fill="#FEE99D"/><rect x="459.2" y="456.4" width="14.0" height="14.0" fill="#FDC07B"/><rect x="473.2" y="456.4" width="14.0" height="14.0" fill="#FECF85"/><rect x="431.2" y="470.4" width="14.0" height="14.0" fill="#4A79B6"/><rect x="445.2" y="470.4" width="14.0" height="14.0" fill="#FEEBA0"/><rect x="459.2" y="470.4" width="14.0" height="14.0" fill="#FDAD6E"/><rect x="473.2" y="470.4" width="14.0" height="14.0" fill="#FEDE8F"/><rect x="431.2" y="484.4" width="14.0" height="14.0" fill="#4E7EB9"/><rect x="445.2" y="484.4" width="14.0" height="14.0" fill="#FFF2AB"/><rect x="459.2" y="484.4" width="14.0" height="14.0" fill="#FDA367"/><rect x="473.2" y="484.4" width="14.0" height="14.0" fill="#FEE192"/></g>
<g font-size="9.1" fill="#111" stroke="#111" stroke-width="0.12"><text transform="rotate(0.03 488.8 18.4)" x="488.8" y="18.4">GH24</text><text transform="rotate(0.03 488.8 32.4)" x="488.8" y="32.4">GH25</text><text transform="rotate(0.03 488.8 46.4)" x="488.8" y="46.4">GH51</text><text transform="rotate(0.03 488.8 60.4)" x="488.8" y="60.4">CBM20</text><text transform="rotate(0.03 488.8 74.4)" x="488.8" y="74.4">GH73</text><text transform="rotate(0.03 488.8 88.4)" x="488.8" y="88.4">GT2</text><text transform="rotate(0.03 488.8 102.4)" x="488.8" y="102.4">GT51</text><text transform="rotate(0.03 488.8 116.4)" x="488.8" y="116.4">GH77</text><text transform="rotate(0.03 488.8 130.4)" x="488.8" y="130.4">CBM13</text><text transform="rotate(0.03 488.8 144.4)" x="488.8" y="144.4">GH92</text><text transform="rotate(0.03 488.8 158.4)" x="488.8" y="158.4">GH13</text><text transform="rotate(0.03 488.8 172.4)" x="488.8" y="172.4">GH36</text><text transform="rotate(0.03 488.8 186.4)" x="488.8" y="186.4">GH29</text><text transform="rotate(0.03 488.8 200.4)" x="488.8" y="200.4">GT3</text><text transform="rotate(0.03 488.8 214.4)" x="488.8" y="214.4">GT4</text><text transform="rotate(0.03 488.8 228.4)" x="488.8" y="228.4">GT35</text><text transform="rotate(0.03 488.8 242.4)" x="488.8" y="242.4">GH78</text><text transform="rotate(0.03 488.8 256.4)" x="488.8" y="256.4">GH16</text><text transform="rotate(0.03 488.8 270.4)" x="488.8" y="270.4">GT47</text><text transform="rotate(0.03 488.8 284.4)" x="488.8" y="284.4">GH20</text><text transform="rotate(0.03 488.8 298.4)" x="488.8" y="298.4">CBM50</text><text transform="rotate(0.03 488.8 312.4)" x="488.8" y="312.4">CBM48</text><text transform="rotate(0.03 488.8 326.4)" x="488.8" y="326.4">GH23</text><text transform="rotate(0.03 488.8 340.4)" x="488.8" y="340.4">CE4</text><text transform="rotate(0.03 488.8 354.4)" x="488.8" y="354.4">GT5</text><text transform="rotate(0.03 488.8 368.4)" x="488.8" y="368.4">GT28</text><text transform="rotate(0.03 488.8 382.4)" x="488.8" y="382.4">GH2</text><text transform="rotate(0.03 488.8 396.4)" x="488.8" y="396.4">GH97</text><text transform="rotate(0.03 488.8 410.4)" x="488.8" y="410.4">GH3</text><text transform="rotate(0.03 488.8 424.4)" x="488.8" y="424.4">GH5</text><text transform="rotate(0.03 488.8 438.4)" x="488.8" y="438.4">GH43</text><text transform="rotate(0.03 488.8 452.4)" x="488.8" y="452.4">CE1</text><text transform="rotate(0.03 488.8 466.4)" x="488.8" y="466.4">GH31</text><text transform="rotate(0.03 488.8 480.4)" x="488.8" y="480.4">GH28</text><text transform="rotate(0.03 488.8 494.4)" x="488.8" y="494.4">GH95</text></g>
<text transform="translate(434.5 500.8) rotate(90.03)" font-size="9.2" fill="#111" stroke="#111" stroke-width="0.12">WY.H</text>
<text transform="translate(448.5 500.8) rotate(90.03)" font-size="9.2" fill="#111" stroke="#111" stroke-width="0.12">WY.L</text>
<text transform="translate(462.5 500.8) rotate(90.03)" font-size="9.2" fill="#111" stroke="#111" stroke-width="0.12">FB.H</text>
<text transform="translate(476.5 500.8) rotate(90.03)" font-size="9.2" fill="#111" stroke="#111" stroke-width="0.12">FB.L</text>
<defs><linearGradient id="cb" x1="0" y1="0" x2="0" y2="1"><stop offset="0.0000" stop-color="#D73027"/><stop offset="0.1667" stop-color="#FC8D59"/><stop offset="0.3333" stop-color="#FEE090"/><stop offset="0.5000" stop-color="#FFFFBF"/><stop offset="0.6667" stop-color="#E0F3F8"/><stop offset="0.8333" stop-color="#91BFDB"/><stop offset="1.0000" stop-color="#4575B4"/></linearGradient></defs>
<rect x="523.0" y="8.5" width="4.9" height="69.7" fill="url(#cb)"/>
<text transform="rotate(0.03 529.8 23.4)" x="529.8" y="23.4" font-size="9" fill="#111">1</text>
<text transform="rotate(0.03 529.8 35.1)" x="529.8" y="35.1" font-size="9" fill="#111">0.5</text>
<text transform="rotate(0.03 529.8 47.2)" x="529.8" y="47.2" font-size="9" fill="#111">0</text>
<text transform="rotate(0.03 529.8 58.8)" x="529.8" y="58.8" font-size="9" fill="#111">−0.5</text>
<text transform="rotate(0.03 529.8 70.1)" x="529.8" y="70.1" font-size="9" fill="#111">−1</text>
<rect x="426.5" y="185.6" width="2.1" height="57.8" fill="#b9b9b9"/>
<rect x="428.5" y="274.7" width="1.7" height="25.7" fill="#b9b9b9"/>
<rect x="418.0" y="185.6" width="1.6" height="113.9" fill="#c9c9c9"/>
<path d="M406.1 22.3L430.8 22.3M406.1 22.3L406.1 118.0M406.1 118.0L412.2 118.0M412.2 50.4L412.2 185.6M412.2 50.4L426.3 50.4M412.2 185.6L418.0 185.6M426.3 43.4L426.3 57.4M426.3 43.4L430.8 43.4M426.3 57.4L430.8 57.4M430.3 15.4L430.3 29.4M418.0 71.4L430.8 71.4M418.0 71.4L418.0 299.5M418.0 299.5L419.6 299.5M419.6 174.7L419.6 424.5M419.6 174.7L426.7 174.7M419.6 424.5L424.3 424.5M426.7 100.0L426.7 185.6M426.7 100.0L428.6 100.0M428.6 86.0L428.6 128.0M429.9 80.0L430.4 186.0M428.5 243.4L428.5 274.7M430.2 300.0L430.2 372.0M429.6 200.0L430.1 274.0M424.3 391.0L424.3 458.0M424.3 391.0L428.8 391.0M424.3 458.0L427.4 458.0M428.8 379.4L428.8 403.0M428.8 379.4L431.0 379.4M428.8 403.0L429.8 403.0M429.8 393.4L429.8 414.4M430.3 407.4L430.3 421.4M427.4 442.4L427.4 473.9M427.4 442.4L430.5 442.4M427.4 473.9L429.1 473.9M430.5 435.4L430.5 449.4M429.1 463.4L429.1 484.4M430.0 477.4L430.0 491.4" fill="none" stroke="#555" stroke-width="0.6"/>
</g>
<text transform="rotate(0.03 358.2 17.9)" x="358.2" y="17.9" font-size="19.2" font-weight="700" fill="#231815">(d)</text>
</svg>
</body></html>
